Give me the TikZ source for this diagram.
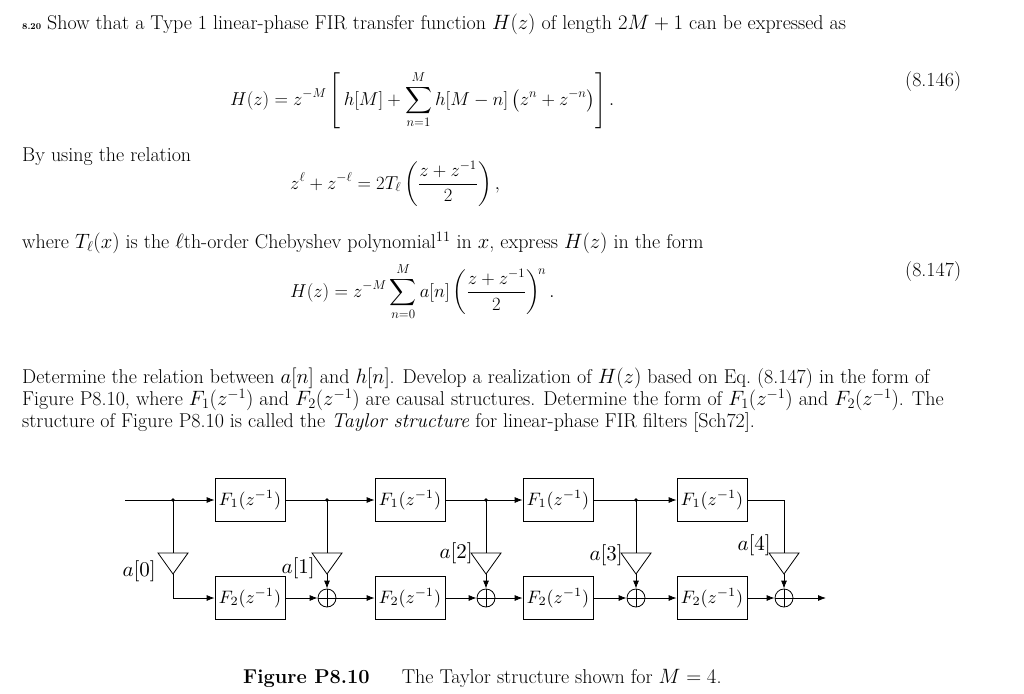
\documentclass[tikz,border=0pt]{standalone}
\usepackage{amsmath}
\usetikzlibrary{arrows.meta,calc}
\newcommand{\bl}[1]{\scalebox{1.8}{$#1$}}
\newcommand{\al}[1]{\scalebox{2.1}{$#1$}}
\begin{document}
\begin{tikzpicture}[x=1pt,y=-1pt,
  blk/.style={draw,thick,minimum width=70pt,minimum height=43pt,inner sep=1pt},
  sum/.style={draw,thick,circle,minimum size=18pt,inner sep=0pt},
  sig/.style={thick,-{Latex[length=8pt,width=6pt]}},
  ln/.style={thick},
  txt/.style={anchor=west,inner sep=0pt,font=\fontsize{20}{22}\selectfont},
  eqn/.style={anchor=west,inner sep=0pt,font=\fontsize{17.28}{22}\selectfont,scale=1.08},
  lab/.style={inner sep=1pt}]
\useasboundingbox (0,0) rectangle (1024,693);
% text
\node[txt] (t1) at (22,24) {\textbf{\small 8.20} Show that a Type 1 linear-phase FIR transfer function $H(z)$ of length $2M+1$ can be expressed as};
\node[eqn] (e1) at (230,100) {$\displaystyle H(z)=z^{-M}\left[\,h[M]+\sum_{n=1}^{M}h[M-n]\left(z^{n}+z^{-n}\right)\right].$};
\node[txt] (n1) at (905,82) {(8.146)};
\node[txt] (t2) at (22,157) {By using the relation};
\node[eqn] (e2) at (290,184) {$\displaystyle z^{\ell}+z^{-\ell}=2T_{\ell}\left(\frac{z+z^{-1}}{2}\right),$};
\node[txt] (t3) at (22,243) {where $T_\ell(x)$ is the $\ell$th-order Chebyshev polynomial$^{11}$ in $x$, express $H(z)$ in the form};
\node[eqn] (e3) at (290,292) {$\displaystyle H(z)=z^{-M}\sum_{n=0}^{M}a[n]\left(\frac{z+z^{-1}}{2}\right)^{\!n}.$};
\node[txt] (n2) at (905,272) {(8.147)};
\node[txt] (p1) at (22,378) {Determine the relation between $a[n]$ and $h[n]$. Develop a realization of $H(z)$ based on Eq.~(8.147) in the form of};
\node[txt] (p2) at (22,400) {Figure P8.10, where $F_1(z^{-1})$ and $F_2(z^{-1})$ are causal structures. Determine the form of $F_1(z^{-1})$ and $F_2(z^{-1})$. The};
\node[txt] (p3) at (22,422) {structure of Figure P8.10 is called the \textit{Taylor structure} for linear-phase FIR filters [Sch72].};
\node[txt] (cap) at (243,678) {\textbf{Figure P8.10}\quad\ \ The Taylor structure shown for $M=4$.};
% diagram
\def\yt{500}\def\yb{598}
\coordinate (in) at (125,\yt);
\foreach \i/\x in {1/250,2/410,3/558,4/712}{
  \node[blk] (f\i) at (\x,\yt) {\bl{F_1(z^{-1})}};}
\foreach \i/\x in {1/250,2/410,3/558,4/712}{
  \node[blk] (g\i) at (\x,\yb) {\bl{F_2(z^{-1})}};}
\foreach \i/\x in {0/173,1/327,2/486,3/636,4/784}{
  \coordinate (b\i) at (\x,\yt);
  \coordinate (tt\i) at (\x-15,553);
  \coordinate (tr\i) at (\x+15,553);
  \coordinate (tp\i) at (\x,574);
  \draw[thick] (tt\i) -- (tr\i) -- (tp\i) -- cycle;
}
\foreach \i/\x in {1/327,2/486,3/636,4/784}{
  \node[sum] (s\i) at (\x,\yb) {};
  \draw[thick] (s\i.north) -- (s\i.south) (s\i.west) -- (s\i.east);
}
\foreach \i in {0,1,2,3}{\fill (b\i) circle (1.8pt);}
\node[lab,anchor=east] (l0) at ($(tt0)+(-1,18)$) {\al{a[0]}};
\node[lab,anchor=east] (l1) at ($(tt1)+(4,15)$) {\al{a[1]}};
\node[lab,anchor=east] (l2) at ($(tt2)+(3,0)$) {\al{a[2]}};
\node[lab,anchor=east] (l3) at ($(tt3)+(3,2)$) {\al{a[3]}};
\node[lab,anchor=east] (l4) at ($(tt4)+(3,-8)$) {\al{a[4]}};
% top path
\draw[sig] (in) -- (f1);
\draw[sig] (f1) -- (f2);
\draw[sig] (f2) -- (f3);
\draw[sig] (f3) -- (f4);
\draw[ln] (f4.east) -| (b4);
\foreach \i in {0,1,2,3,4}{\draw[ln] (b\i) -- ($(tt\i)!0.5!(tr\i)$);}
% bottom path
\draw[sig] (tp0) |- (g1.west);
\foreach \i in {1,2,3,4}{\draw[sig] (tp\i) -- (s\i.north);}
\draw[sig] (g1) -- (s1);
\draw[sig] (s1) -- (g2);
\draw[sig] (g2) -- (s2);
\draw[sig] (s2) -- (g3);
\draw[sig] (g3) -- (s3);
\draw[sig] (s3) -- (g4);
\draw[sig] (g4) -- (s4);
\coordinate (out) at (826,\yb);
\draw[sig] (s4) -- (out);
\end{tikzpicture}
\end{document}
